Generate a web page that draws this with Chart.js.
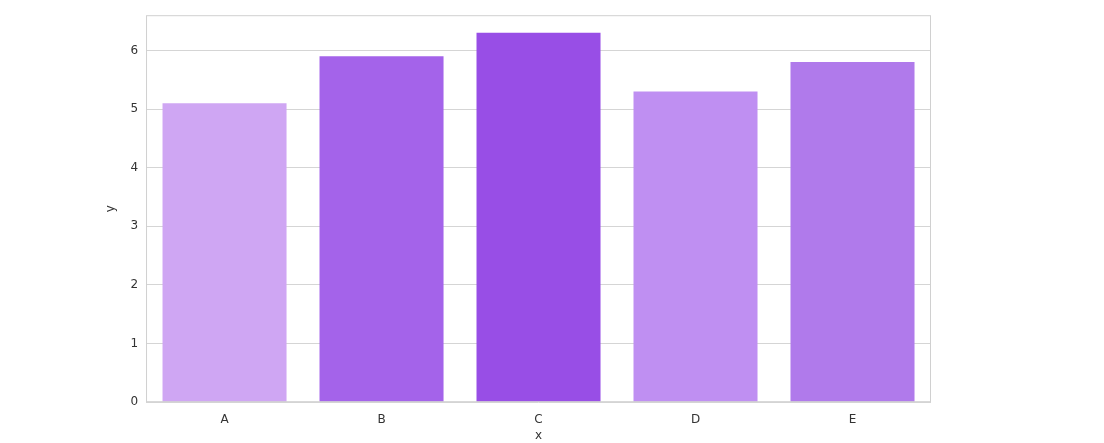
<!DOCTYPE html>
<html><head><script src="https://cdn.jsdelivr.net/npm/chart.js@4"></script>
<style>html,body{margin:0;background:#fff}#w{width:1104px;height:443px}</style></head>
<body><div id="w"><canvas id="c"></canvas></div>
<script>
const categories=["A","B","C","D","E"];
const values=[5.1,5.9,6.3,5.3,5.8];
const colors=["#cfa6f3","#a463ea","#984ee6","#bf8ff2","#b07aeb"];
const yTicks=[0,1,2,3,4,5,6];
const border={id:'b',afterDraw(ch){const a=ch.chartArea,x=ch.ctx;x.save();x.strokeStyle='#d0d0d0';x.lineWidth=1;x.strokeRect(a.left+0.5,a.top+0.5,a.width-1,a.height-1);x.restore();}};
new Chart(document.getElementById('c'),{type:'bar',data:{labels:categories,datasets:[{data:values,backgroundColor:colors,barPercentage:0.79,categoryPercentage:1}]},
options:{responsive:true,maintainAspectRatio:false,animation:false,layout:{padding:{left:100,right:173,top:13,bottom:0}},
plugins:{legend:{display:false},tooltip:{enabled:false}},
scales:{x:{grid:{display:false},border:{display:false},ticks:{color:'#333',font:{family:'DejaVu Sans',size:12},padding:2},title:{display:true,text:'x',color:'#333',font:{family:'DejaVu Sans',size:12},padding:0}},
y:{min:0,max:6.6,afterBuildTicks(s){s.ticks=yTicks.map(v=>({value:v}));},grid:{color:'#d5d5d5',drawTicks:false},border:{display:false},ticks:{color:'#333',font:{family:'DejaVu Sans',size:12},padding:8},title:{display:true,text:'y',color:'#333',font:{family:'DejaVu Sans',size:12},padding:4}}}},plugins:[border]});
</script></body></html>
